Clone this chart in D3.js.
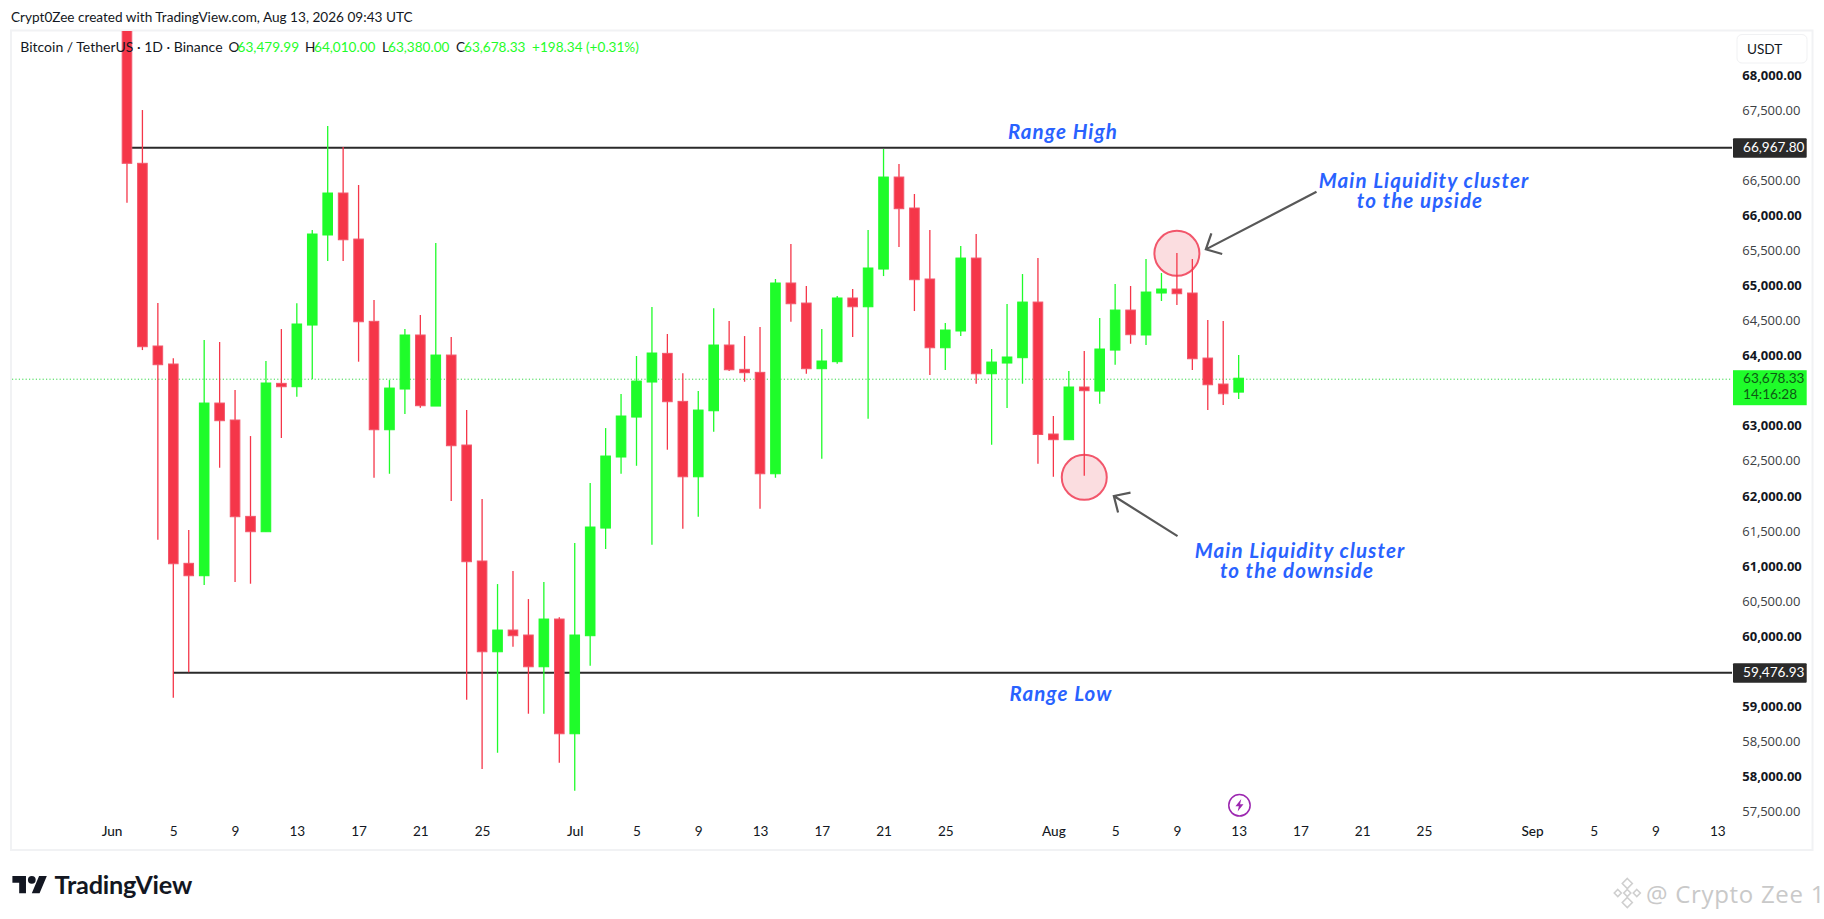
<!DOCTYPE html>
<html lang="en">
<head>
<meta charset="utf-8">
<title>BTCUSDT 1D</title>
<script src="https://d3js.org/d3.v7.min.js"></script>
<style>
  html, body { margin: 0; padding: 0; background: #fff; overflow: hidden; }
  text { font-family: Lato, "Noto Sans", sans-serif; }
</style>
</head>
<body>
<script>
// daily candles, Jun 2 -> Aug 13 2026
var opens = [69200,66745,64138,63881,61037,60860,63324,63082,61707,61488,63605,63557,64437,65722,66321,65664,64490,62943,63524,64295,63281,64009,62725,61070,59775,60085,60014,59561,60242,
  58605,60004,61540,62554,63124,63624,64033,63348,62272,63214,64152,63805,63762,62315,65037,64751,63814,63914,64823,64698,65236,66549,66107,65094,64113,64352,65393,63742,63895,63971,64765,
  62882,62801,63553,63495,64080,64651,64295,64894,64951,64894,63966,63595,63479.99];
var highs = [69500,67505,64751,63962,61512,64223,64195,63510,62853,63924,64380,64747,65793,67277,66977,66435,64794,63652,64380,64580,65607,64266,63224,61954,60741,60927,60527,60770,60266,
  61326,62183,62967,63453,63995,64694,64309,63748,63495,64676,64494,64280,64409,65094,65593,64994,64380,64851,64951,65793,66949,66735,66307,65793,64466,65565,65736,64095,64737,65165,65393,
  63139,63781,64066,64537,65022,64994,65379,65179,65465,65379,64509,64494,64010];
var lows = [66183,64080,61374,59119,59481,60727,62401,60770,60746,61488,62825,63414,63667,65351,65351,63914,62258,62315,63167,63257,63281,61926,59090,58101,58334,59847,58891,58891,58191,
  57792,59575,61241,62315,62429,61302,62658,61531,61702,62915,63781,63628,61816,62258,64484,63742,62529,63885,64266,63100,65136,65550,64637,63724,63795,64280,63600,62729,63253,63600,62458,
  62272,62801,62287,63314,63871,64170,64152,64780,64723,63795,63224,63296,63380];
var closes = [66745,64128,63871,61031,60860,63324,63072,61702,61488,63610,63557,64452,65736,66321,65654,64484,62943,63538,64295,63286,64009,62715,61060,59775,60085,60004,59561,60242,58605,
  60014,61555,62568,63139,63638,64038,63343,62272,63224,64152,63799,63757,62315,65037,64741,63814,63924,64823,64698,65251,66549,66097,65084,64113,64366,65393,63742,63909,63981,64765,62875,
  62801,63553,63500,64095,64651,64299,64908,64951,64884,63956,63585,63457,63678.33];

var priceTicks = [68000,67500,66500,66000,65500,65000,64500,64000,63000,62500,62000,61500,61000,60500,60000,59000,58500,58000,57500];
var timeTicks = ["2026-06-01","2026-06-05","2026-06-09","2026-06-13","2026-06-17","2026-06-21","2026-06-25",
  "2026-07-01","2026-07-05","2026-07-09","2026-07-13","2026-07-17","2026-07-21","2026-07-25",
  "2026-08-01","2026-08-05","2026-08-09","2026-08-13","2026-08-17","2026-08-21","2026-08-25",
  "2026-09-01","2026-09-05","2026-09-09","2026-09-13"];

var rangeHigh = 66967.80, rangeLow = 59476.93, lastPrice = 63678.33;
var countdown = "14:16:28";

// drawings: [iso date and hour, price]
var clusterCircles = [["2026-08-09T00", 65460], ["2026-08-03T00", 62264]];
var clusterArrows = [
  { from: ["2026-08-18T01", 66339], to: ["2026-08-10T21", 65517] },
  { from: ["2026-08-09T01", 61426], to: ["2026-08-04T22", 61997] }
];
var blue = "#2962ff", green = "#1ffc2a", red = "#f53649", redEdge = "#f2566b";

var width = 1824, height = 919;
var svg = d3.select("body").append("svg").attr("width", width).attr("height", height)
  .style("display", "block");

var parseDay = d3.utcParse("%Y-%m-%d"), parseHour = d3.utcParse("%Y-%m-%dT%H");
var x = d3.scaleUtc().domain([parseDay("2026-06-05"), parseDay("2026-09-13")]).range([173.3, 1717.3]);
var y = d3.scaleLinear().domain([68000, 57500]).range([75.35, 811.2]);
var fmt = d3.format(",.2f");

var days = d3.utcDay.range(parseDay("2026-06-02"), parseDay("2026-08-14"));
var candles = days.map(function(d, i) {
  return { date: d, o: opens[i], h: highs[i], l: lows[i], c: closes[i] };
});

// header
svg.append("text").attr("x", 11).attr("y", 22).attr("font-size", 13.6).attr("fill", "#131722")
  .text("Crypt0Zee created with TradingView.com, Aug 13, 2026 09:43 UTC");

// pane frame
svg.append("rect").attr("x", 11).attr("y", 30.5).attr("width", 1801.5).attr("height", 819.5)
  .attr("fill", "none").attr("stroke", "#f1f2f4").attr("stroke-width", 2);

svg.append("defs").append("clipPath").attr("id", "pane").append("rect")
  .attr("x", 12).attr("y", 31).attr("width", 1720).attr("height", 818);
var pane = svg.append("g").attr("clip-path", "url(#pane)");

// last price line + range lines
pane.append("line").attr("x1", 12).attr("x2", 1732).attr("y1", y(lastPrice) + 1).attr("y2", y(lastPrice) + 1)
  .attr("stroke", "#35d848").attr("stroke-width", 1).attr("stroke-dasharray", "1.2 2.2");

var rangeLines = [[parseDay("2026-06-02"), rangeHigh], [parseDay("2026-06-05"), rangeLow]];
pane.selectAll(".range").data(rangeLines).enter().append("line").attr("class", "range")
  .attr("x1", function(d) { return x(d[0]); }).attr("x2", 1732)
  .attr("y1", function(d) { return y(d[1]); }).attr("y2", function(d) { return y(d[1]); })
  .attr("stroke", "#2a2a2a").attr("stroke-width", 2);

// liquidity circles go under the wicks
pane.selectAll(".cluster").data(clusterCircles).enter().append("circle").attr("class", "cluster")
  .attr("cx", function(d) { return x(parseHour(d[0])); })
  .attr("cy", function(d) { return y(d[1]); })
  .attr("r", 22.5)
  .attr("fill", "#fbdde0").attr("stroke", "#f2566b").attr("stroke-width", 2);

// candles
var bars = pane.selectAll(".candle").data(candles).enter().append("g").attr("class", "candle");
bars.append("line")
  .attr("x1", function(d) { return x(d.date); }).attr("x2", function(d) { return x(d.date); })
  .attr("y1", function(d) { return y(d.h); }).attr("y2", function(d) { return y(d.l); })
  .attr("stroke-width", 1.3)
  .attr("stroke", function(d) { return d.c >= d.o ? green : red; });
bars.append("rect")
  .attr("x", function(d) { return x(d.date) - 4.8; })
  .attr("width", 9.6)
  .attr("y", function(d) { return y(Math.max(d.o, d.c)); })
  .attr("height", function(d) { return Math.max(1, Math.abs(y(d.o) - y(d.c))); })
  .attr("fill", function(d) { return d.c >= d.o ? green : red; })
  .attr("stroke", function(d) { return d.c >= d.o ? green : redEdge; })
  .attr("stroke-width", 1);

// arrows
function arrowPath(a) {
  var tx = x(parseHour(a.to[0])), ty = y(a.to[1]);
  var fx = x(parseHour(a.from[0])), fy = y(a.from[1]);
  var ang = Math.atan2(fy - ty, fx - tx), len = 17, spread = 43.5 * Math.PI / 180;
  var p = d3.path();
  p.moveTo(fx, fy); p.lineTo(tx, ty);
  p.moveTo(tx + len * Math.cos(ang - spread), ty + len * Math.sin(ang - spread));
  p.lineTo(tx, ty);
  p.lineTo(tx + len * Math.cos(ang + spread), ty + len * Math.sin(ang + spread));
  return p.toString();
}
pane.selectAll(".arrow").data(clusterArrows).enter().append("path").attr("class", "arrow")
  .attr("d", arrowPath).attr("fill", "none").attr("stroke", "#585858").attr("stroke-width", 2.2);

// blue notes
var notes = [
  { t: "Range High", x: 1063, y: 138.5 },
  { t: "Range Low", x: 1061, y: 701 },
  { t: "Main Liquidity cluster", x: 1424, y: 187.5 },
  { t: "to the upside", x: 1420, y: 207.5 },
  { t: "Main Liquidity cluster", x: 1300, y: 557.5 },
  { t: "to the downside", x: 1297, y: 577.5 }
];
svg.selectAll(".note").data(notes).enter().append("text").attr("class", "note")
  .attr("x", function(d) { return d.x; }).attr("y", function(d) { return d.y; })
  .attr("text-anchor", "middle").attr("font-size", 20.5).attr("font-weight", 700)
  .attr("font-style", "italic").attr("letter-spacing", 1.1).attr("fill", blue)
  .text(function(d) { return d.t; });

// legend line
var legend = [
  ["Bitcoin / TetherUS · 1D · Binance", 20.3, "#131722"],
  ["O", 228.4, "#131722"], ["63,479.99", 237.6, green],
  ["H", 305, "#131722"], ["64,010.00", 314, green],
  ["L", 382, "#131722"], ["63,380.00", 388, green],
  ["C", 456, "#131722"], ["63,678.33", 464, green],
  ["+198.34 (+0.31%)", 532, green]
];
svg.selectAll(".legend").data(legend).enter().append("text").attr("class", "legend")
  .attr("x", function(d) { return d[1]; }).attr("y", 52).attr("font-size", function(d, i) { return i === 0 ? 14 : 13.6; })
  .attr("fill", function(d) { return d[2]; })
  .text(function(d) { return d[0]; });

// price axis
var yAxis = svg.append("g").attr("transform", "translate(1742.3,0)")
  .call(d3.axisRight(y).tickValues(priceTicks).tickSize(0).tickPadding(0).tickFormat(fmt));
yAxis.select(".domain").remove();
yAxis.selectAll("text")
  .attr("font-size", 13).style("font-family", "'Open Sans', Lato, sans-serif")
  .attr("font-weight", function(d) { return d % 1000 === 0 ? 700 : 400; })
  .attr("letter-spacing", function(d) { return d % 1000 === 0 ? 0 : -0.1; })
  .attr("fill", function(d) { return d % 1000 === 0 ? "#131722" : "#3c4043"; });

// time axis
var xAxis = svg.append("g").attr("transform", "translate(0,826)")
  .call(d3.axisBottom(x).tickValues(timeTicks.map(parseDay)).tickSize(0).tickPadding(0)
    .tickFormat(function(d) { return d.getUTCDate() === 1 ? d3.utcFormat("%b")(d) : d.getUTCDate(); }));
xAxis.select(".domain").remove();
xAxis.selectAll("text").attr("font-size", 13.6).attr("fill", "#131722")
  .attr("font-weight", function(d) { return d.getUTCDate() === 1 ? 500 : 400; });

// axis price tags
var tags = [rangeHigh, rangeLow];
var tagG = svg.selectAll(".tag").data(tags).enter().append("g").attr("class", "tag");
tagG.append("rect").attr("x", 1733).attr("width", 73.7).attr("height", 19.5).attr("rx", 1)
  .attr("y", function(d) { return y(d) - 9.5; }).attr("fill", "#2a2a2a");
tagG.append("text").attr("x", 1743).attr("y", function(d) { return y(d) + 4.5; })
  .attr("font-size", 13.6).attr("fill", "#fff").text(fmt);

svg.append("rect").attr("x", 1733).attr("y", y(lastPrice) - 8).attr("width", 73.7).attr("height", 35).attr("fill", green);
svg.append("text").attr("x", 1743).attr("y", y(lastPrice) + 5).attr("font-size", 13.6).attr("fill", "#0d5a14").text(fmt(lastPrice));
svg.append("text").attr("x", 1743).attr("y", y(lastPrice) + 21).attr("font-size", 13.6).attr("fill", "#0d5a14").text(countdown);

// USDT button
svg.append("rect").attr("x", 1737).attr("y", 34.5).attr("width", 70).attr("height", 28.5).attr("rx", 5)
  .attr("fill", "#fff").attr("stroke", "#f0f1f3");
svg.append("text").attr("x", 1747).attr("y", 54).attr("font-size", 13.6).attr("fill", "#131722").text("USDT");

// purple flash marker
var flash = svg.append("g").attr("transform", "translate(" + (x(parseDay("2026-08-13")) + 0.8) + ",805.3)");
flash.append("circle").attr("r", 10.7).attr("fill", "#fff").attr("stroke", "#9c27b0").attr("stroke-width", 1.5);
flash.append("path").attr("d", "M1.8,-6.2 L-4,1 L-0.6,1 L-1.8,6.2 L4,-1 L0.6,-1 Z").attr("fill", "#9c27b0");

// TradingView mark
var logo = svg.append("g").attr("transform", "translate(12.4,872) scale(0.97)").attr("fill", "#131722");
logo.append("path").attr("d", "M14 22H7V11H0V4h14v18zM28 22h-8l7.5-18h8L28 22z");
logo.append("circle").attr("cx", 20).attr("cy", 8).attr("r", 4);
svg.append("text").attr("x", 54.5).attr("y", 893.5).attr("font-size", 25.3).attr("font-weight", 700)
  .attr("letter-spacing", -0.2).attr("fill", "#131722").text("TradingView");

// watermark bottom right
var wm = svg.append("g").attr("transform", "translate(1627.3,893)").attr("fill", "none").attr("stroke", "#cfcfcf").attr("stroke-width", 1.6);
[[0, -9.5, 5], [-9.5, 0, 3.5], [9.5, 0, 3.5], [0, 9.5, 5], [0, 0, 3.5]].forEach(function(m) {
  wm.append("path").attr("d", "M" + m[0] + "," + (m[1] - m[2]) + "L" + (m[0] + m[2]) + "," + m[1] + "L" + m[0] + "," + (m[1] + m[2]) + "L" + (m[0] - m[2]) + "," + m[1] + "Z");
});
svg.append("text").attr("x", 1646).attr("y", 902.5).attr("font-size", 24).attr("letter-spacing", 0.7)
  .attr("fill", "#c9c9c9").style("font-family", "'Open Sans', sans-serif").text("@ Crypto Zee 1");
</script>
</body>
</html>
